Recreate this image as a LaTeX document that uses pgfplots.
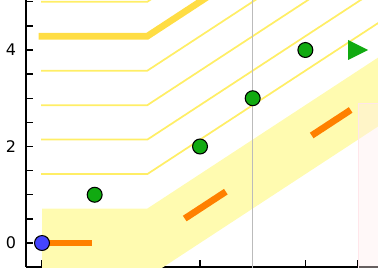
\documentclass[border=0pt]{standalone}
\usepackage{fontspec}
\setmainfont{DejaVu Sans}
\usepackage{pgfplots}
\pgfplotsset{compat=1.18}
\definecolor{bandfill}{HTML}{FFFBB0}
\definecolor{thinline}{HTML}{FFEE66}
\definecolor{thickline}{HTML}{FFDD44}
\definecolor{morange}{HTML}{FF8000}
\definecolor{mgreen}{HTML}{11AA11}
\definecolor{mblue}{HTML}{4444FF}
\definecolor{vgray}{HTML}{BBBBBB}
\definecolor{pinkfill}{HTML}{FFEEEE}
\definecolor{pinkedge}{HTML}{FFE6EA}
\pgfdeclareplotmark{rtri}{%
  \pgfpathmoveto{\pgfqpoint{\pgfplotmarksize}{0pt}}%
  \pgfpathlineto{\pgfqpoint{-\pgfplotmarksize}{\pgfplotmarksize}}%
  \pgfpathlineto{\pgfqpoint{-\pgfplotmarksize}{-\pgfplotmarksize}}%
  \pgfpathclose\pgfusepathqfill}
\begin{document}
\begin{tikzpicture}
\begin{axis}[
  x=39.5pt, y=36.19pt,
  xmin=-0.3, xmax=6.379, ymin=-0.5, ymax=5.036,
  axis x line=bottom, axis y line=left,
  axis line style={-, line width=1.6pt, black},
  xtick={0,...,6}, xticklabels={},
  ytick={0,2,4}, minor ytick={0.5,1,1.5,2.5,3,3.5,4.5,5},
  tick align=inside, major tick length=5pt, minor tick length=5pt,
  tick style={black, line width=1pt},
  ticklabel style={font=\fontsize{12}{14}\selectfont},
  /pgf/number format/assume math mode=true,
  yticklabel style={xshift=-4pt},
  clip=true,
]
% band
\addplot[fill=bandfill, draw=none] coordinates {(0,-0.7143) (2,-0.7143) (7,2.8571) (7,4.2857) (2,0.7143) (0,0.7143)} -- cycle;
% pink rectangle
\addplot[fill=pinkfill, fill opacity=0.4, draw=pinkedge, line width=0.7pt] coordinates {(6,-1) (6,2.9) (8,2.9) (8,-1)} -- cycle;
% thin lines
\addplot[thinline, line width=1.3pt, line cap=rect] coordinates {(0,1.4286) (2,1.4286) (7,5.0)};
\addplot[thinline, line width=1.3pt, line cap=rect] coordinates {(0,2.1429) (2,2.1429) (7,5.7143)};
\addplot[thinline, line width=1.3pt, line cap=rect] coordinates {(0,2.8571) (2,2.8571) (7,6.4286)};
\addplot[thinline, line width=1.3pt, line cap=rect] coordinates {(0,3.5714) (2,3.5714) (7,7.1429)};
\addplot[thinline, line width=1.3pt, line cap=rect] coordinates {(0,5.0) (2,5.0) (7,8.5714)};
% thick line
\addplot[thickline, line width=5pt, line cap=rect] coordinates {(0,4.2857) (2,4.2857) (7,7.8571)};
% gray vertical line
\addplot[vgray, line width=1pt] coordinates {(4,-1) (4,6)};
% orange dashes
\addplot[morange, line width=5pt] coordinates {(0,0) (0.95,0)};
\addplot[morange, line width=5pt] coordinates {(2.71,0.507) (3.49,1.064)};
\addplot[morange, line width=5pt] coordinates {(5.12,2.228) (5.86,2.757)};
% markers
\addplot[only marks, mark=*, mark size=5.6pt, mark options={fill=mgreen, draw=black, line width=0.8pt}] coordinates {(1,1) (3,2) (4,3) (5,4)};
\addplot[only marks, mark=*, mark size=5.6pt, mark options={fill=mblue, draw=black, line width=0.8pt}] coordinates {(0,0)};
\addplot[only marks, mark=rtri, mark size=7.5pt, color=mgreen] coordinates {(6,4)};
\end{axis}
\pgfresetboundingbox
\path[use as bounding box] ([xshift=-19.65pt,yshift=-8.2pt]current axis.south west) rectangle (current axis.north east);
\end{tikzpicture}
\end{document}
